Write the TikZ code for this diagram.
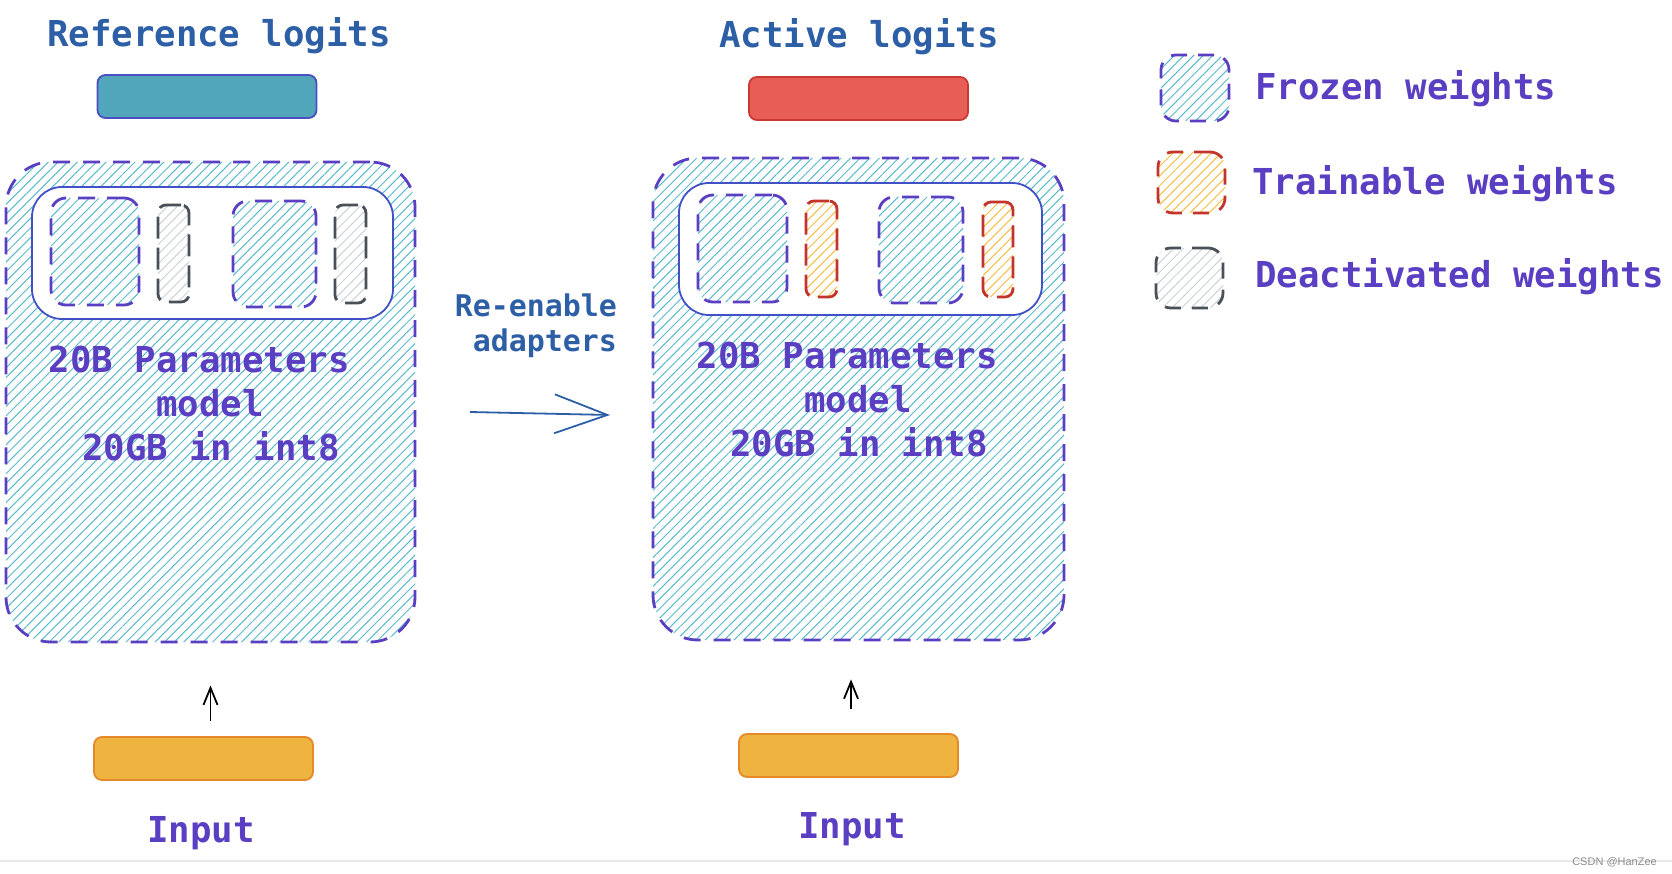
\documentclass[tikz,border=0pt]{standalone}
\usepackage{fontspec}
\newfontfamily\monof{DejaVu Sans Mono}
\newfontfamily\wmf{Liberation Sans}
\usetikzlibrary{patterns.meta,arrows.meta}
\definecolor{purp}{HTML}{5B3FC2}
\definecolor{innerblue}{HTML}{4152C6}
\definecolor{titleblue}{HTML}{2D5FA6}
\definecolor{hatchteal}{HTML}{5ABACD}
\definecolor{hatchorange}{HTML}{F7BE45}
\definecolor{hatchgrey}{HTML}{CCD2D8}
\definecolor{trainred}{HTML}{C2342C}
\definecolor{deactgrey}{HTML}{495057}
\definecolor{reffill}{HTML}{51A6BB}
\definecolor{refdraw}{HTML}{4A50C0}
\definecolor{actfill}{HTML}{E85D56}
\definecolor{actdraw}{HTML}{C93A32}
\definecolor{infill}{HTML}{EFB33F}
\definecolor{indraw}{HTML}{E5892B}
\begin{document}
\begin{tikzpicture}[x=1pt,y=-1pt,
  hatch/.style={pattern={Lines[angle=45,distance=6.8pt,line width=1pt]}, pattern color=#1},
  bigbox/.style={draw=purp, line width=2.8pt, dash pattern=on 17pt off 13pt, rounded corners=45pt, hatch=hatchteal, inner sep=0pt},
  innerbox/.style={draw=innerblue, line width=1.8pt, fill=white, rounded corners=30pt, inner sep=0pt},
  frozenbox/.style={draw=purp, line width=2.8pt, dash pattern=on 17pt off 12pt, rounded corners=15pt, hatch=hatchteal, inner sep=0pt},
  trainbox/.style={draw=trainred, line width=2.8pt, dash pattern=on 22pt off 9pt, rounded corners=8pt, hatch=hatchorange, inner sep=0pt},
  deactbox/.style={draw=deactgrey, line width=2.8pt, dash pattern=on 22pt off 9pt, rounded corners=8pt, hatch=hatchgrey, inner sep=0pt},
  legfrozen/.style={frozenbox, dash pattern=on 16pt off 11pt},
  legtrain/.style={trainbox, rounded corners=15pt, dash pattern=on 16pt off 11pt},
  legdeact/.style={deactbox, rounded corners=15pt, dash pattern=on 16pt off 11pt},
  bar/.style={line width=1.8pt, rounded corners=8pt, minimum width=219pt, minimum height=43pt, inner sep=0pt},
  bigtext/.style={font=\monof\bfseries\fontsize{35.7}{40}\selectfont, inner sep=0pt, anchor=base},
  purptext/.style={bigtext, text=purp},
  bluetext/.style={bigtext, text=titleblue},
  smallarrow/.style={-{Straight Barb[length=17pt,width=14pt]}, line width=1.8pt, black},
]
\useasboundingbox (0,0) rectangle (1672,874);

% titles and logits bars
\node[bluetext] (tL) at (219,47) {Reference logits};
\node[bluetext] (tR) at (859,48) {Active logits};
\node[bar, draw=refdraw, fill=reffill] (refbar) at (207,96.5) {};
\node[bar, draw=actdraw, fill=actfill] (actbar) at (858.5,98.5) {};

% left model
\node[bigbox, minimum width=409pt, minimum height=480pt] (LB) at (210.5,402) {};
\node[innerbox, minimum width=361pt, minimum height=132pt] (LI) at (212.5,253) {};
\node[frozenbox, minimum width=88pt, minimum height=107pt] (LF1) at (95,251.5) {};
\node[deactbox, minimum width=31pt, minimum height=97pt] (LD1) at (173.5,253.5) {};
\node[frozenbox, minimum width=83pt, minimum height=106pt] (LF2) at (274.5,254) {};
\node[deactbox, minimum width=31pt, minimum height=98pt] (LD2) at (350.5,254) {};
\node[purptext] (LT1) at (210,372) {20B Parameters\hphantom{0}};
\node[purptext] (LT2) at (210,416) {model};
\node[purptext] (LT3) at (211,460) {20GB in int8};

% right model
\node[bigbox, minimum width=411pt, minimum height=482pt] (RB) at (858.5,399) {};
\node[innerbox, minimum width=363pt, minimum height=132pt] (RI) at (860.5,249) {};
\node[frozenbox, minimum width=89pt, minimum height=107pt] (RF1) at (742.5,248.5) {};
\node[trainbox, minimum width=31pt, minimum height=96pt] (RT1) at (821.5,249) {};
\node[frozenbox, minimum width=84pt, minimum height=106pt] (RF2) at (921,250) {};
\node[trainbox, minimum width=30pt, minimum height=95pt] (RT2) at (998,249.5) {};
\node[purptext] (RT1t) at (858,368) {20B Parameters\hphantom{0}};
\node[purptext] (RT2t) at (858,412) {model};
\node[purptext] (RT3t) at (859,456) {20GB in int8};

% inputs
\node[bar, draw=indraw, fill=infill] (inL) at (203.5,758.5) {};
\node[bar, draw=indraw, fill=infill] (inR) at (848.5,755.5) {};
\node[purptext] (inLt) at (201,842) {Input};
\node[purptext] (inRt) at (852,838) {Input};
\draw[smallarrow, shorten <=15pt, shorten >=43pt] (inL.north -| LB.south) -- (LB.south);
\draw[smallarrow, shorten <=24pt, shorten >=38pt] ([xshift=2.5pt]inR.north) -- ([xshift=-7.5pt]RB.south);

% re-enable arrow
\node[font=\monof\bfseries\fontsize{29.9}{37}\selectfont, text=titleblue, inner sep=0pt, anchor=base east] (re1) at (617,317) {Re-enable};
\node[font=\monof\bfseries\fontsize{29.9}{37}\selectfont, text=titleblue, inner sep=0pt, anchor=base east] (re2) at (617,352) {adapters};
\coordinate (reA) at (470,412);
\coordinate (reB) at (610,415);
\draw[-{Straight Barb[length=53pt,width=39pt]}, line width=1.8pt, titleblue] (reA) -- (reB);

% legend
\node[legfrozen, minimum width=68pt, minimum height=66pt] (gF) at (1195,88) {};
\node[legtrain, minimum width=67pt, minimum height=61pt] (gT) at (1191.5,182.5) {};
\node[legdeact, minimum width=67pt, minimum height=60pt] (gD) at (1189.5,278) {};
\node[purptext, anchor=base west] (gFt) at (1255,100) {Frozen weights};
\node[purptext, anchor=base west] (gTt) at (1252,195) {Trainable weights};
\node[purptext, anchor=base west] (gDt) at (1255,288) {Deactivated weights};

% footer
\draw[line width=1.2pt, black!9] (0,861) -- (1672,861);
\node[font=\wmf\fontsize{11}{12}\selectfont, text=black!45, inner sep=0pt, anchor=base east] (wm) at (1657,865) {CSDN @HanZee};
\end{tikzpicture}
\end{document}
